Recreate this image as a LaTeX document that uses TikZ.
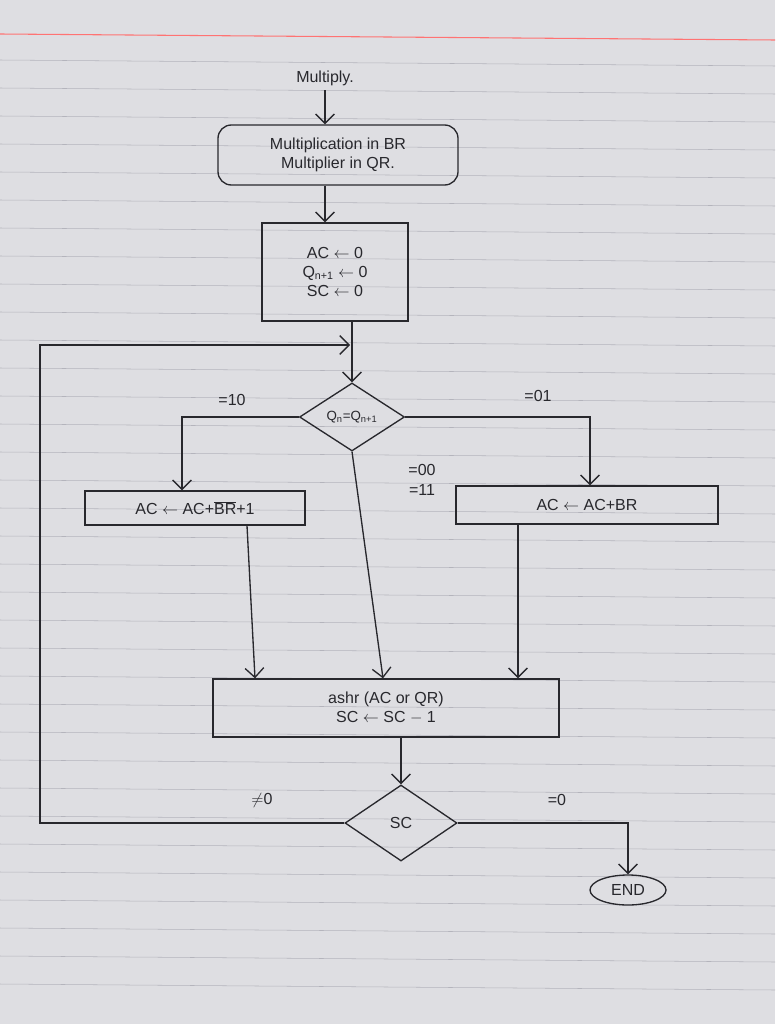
\documentclass[tikz,border=0pt]{standalone}
\usepackage{fontspec}
\setmainfont{Liberation Sans}
\usetikzlibrary{shapes.geometric,arrows.meta}
\definecolor{paper}{RGB}{222,222,226}
\definecolor{rule}{RGB}{180,180,188}
\definecolor{ink}{RGB}{40,40,45}
\begin{document}
\begin{tikzpicture}[x=0.75pt,y=-0.75pt,
  every node/.style={text=ink,font=\large},
  box/.style={draw=ink,line width=1pt,align=center,inner sep=4pt},
  dia/.style={draw=ink,line width=1pt,diamond,aspect=1.6,inner sep=1pt},
  ln/.style={draw=ink,line width=1pt},
  ar/.style={draw=ink,line width=1pt,-{Straight Barb[length=7pt]}}]
\fill[paper] (0,0) rectangle (775,1024);
\useasboundingbox (0,0) rectangle (775,1024);
\draw[red!55,thick] (0,34) -- (775,40);
\foreach \y in {60,88,...,1010} \draw[rule,thin] (0,\y) -- (775,\y+6);
% nodes
\node (mul) at (325,78) {Multiply.};
\node[box,rounded corners=10pt,minimum width=240*0.75pt,minimum height=60*0.75pt] (init) at (338,155) {Multiplication in BR\\Multiplier in QR.};
\node[box,minimum width=146*0.75pt,minimum height=98*0.75pt] (zero) at (335,272) {AC $\leftarrow$ 0\\Q\textsubscript{n+1} $\leftarrow$ 0\\SC $\leftarrow$ 0};
\node[dia,minimum width=105*0.75pt,minimum height=68*0.75pt] (q) at (352,417) {\normalsize Q\textsubscript{n}=Q\textsubscript{n+1}};
\node[box,minimum width=220*0.75pt,minimum height=34*0.75pt] (sub) at (195,508) {AC $\leftarrow$ AC+$\overline{\mbox{BR}}$+1};
\node[box,minimum width=262*0.75pt,minimum height=38*0.75pt] (add) at (587,505) {AC $\leftarrow$ AC+BR};
\node[box,minimum width=346*0.75pt,minimum height=58*0.75pt] (sh) at (386,708) {ashr (AC or QR)\\SC $\leftarrow$ SC $-$ 1};
\node[dia,minimum width=112*0.75pt,minimum height=76*0.75pt] (sc) at (401,823) {SC};
\node[draw=ink,line width=1pt,ellipse,minimum width=76*0.75pt,minimum height=30*0.75pt,inner sep=1pt] (end) at (628,890) {END};
\coordinate (loopin) at (350,345);
\coordinate (c1) at (40,345);
% connectors
\draw[ar] (mul.south -| 325,0) -- (init.north -| 325,0);
\draw[ar] (init.south -| 325,0) -- (zero.north -| 325,0);
\draw[ar] (zero.south -| q.north) -- (q.north);
\draw[ar] (sc.west) -| (c1) -- (loopin);
\draw[ar] (q.west) -| (sub.north -| 182,0);
\draw[ar] (q.east) -| (add.north -| 590,0);
\draw[ar] (q.south) -- (sh.north -| 383,0);
\draw[ar] (sub.south -| 247,0) -- (sh.north -| 255,0);
\draw[ar] (add.south -| 518,0) -- (sh.north -| 518,0);
\draw[ar] (sh.south -| sc.north) -- (sc.north);
\draw[ar] (sc.east) -| (end.north);
% labels
\node at (232,400) {=10};
\node at (538,396) {=01};
\node at (422,470) {=00};
\node at (422,490) {=11};
\node at (262,800) {$\neq$0};
\node at (557,800) {=0};
\end{tikzpicture}
\end{document}
